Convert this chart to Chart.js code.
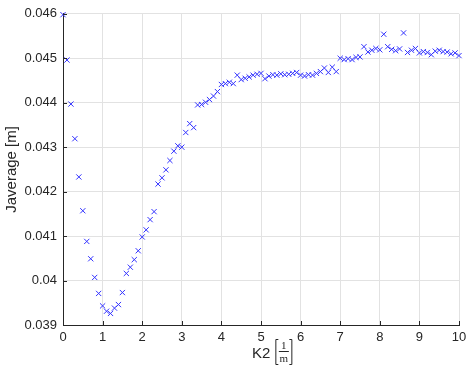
<!DOCTYPE html>
<html>
<head>
<meta charset="utf-8">
<script src="https://cdn.jsdelivr.net/npm/chart.js@4.4.1/dist/chart.umd.min.js"></script>
<style>
  html, body { margin: 0; padding: 0; background: #fff; }
  #wrap { width: 474px; height: 372px; position: relative; }
</style>
</head>
<body>
<div id="wrap"><canvas id="javgChart"></canvas></div>
<script>
// K2 values (1/m)
const k2Values = [
  0.0, 0.1, 0.2, 0.3, 0.4, 0.5, 0.6, 0.7, 0.8, 0.9,
  1.0, 1.1, 1.2, 1.3, 1.4, 1.5, 1.6, 1.7, 1.8, 1.9,
  2.0, 2.1, 2.2, 2.3, 2.4, 2.5, 2.6, 2.7, 2.8, 2.9,
  3.0, 3.1, 3.2, 3.3, 3.4, 3.5, 3.6, 3.7, 3.8, 3.9,
  4.0, 4.1, 4.2, 4.3, 4.4, 4.5, 4.6, 4.7, 4.8, 4.9,
  5.0, 5.1, 5.2, 5.3, 5.4, 5.5, 5.6, 5.7, 5.8, 5.9,
  6.0, 6.1, 6.2, 6.3, 6.4, 6.5, 6.6, 6.7, 6.8, 6.9,
  7.0, 7.1, 7.2, 7.3, 7.4, 7.5, 7.6, 7.7, 7.8, 7.9,
  8.0, 8.1, 8.2, 8.3, 8.4, 8.5, 8.6, 8.7, 8.8, 8.9,
  9.0, 9.1, 9.2, 9.3, 9.4, 9.5, 9.6, 9.7, 9.8, 9.9,
  10.0
];

// Javerage (m)
const javgValues = [
  0.04598, 0.04496, 0.04397, 0.04319, 0.04233, 0.04157, 0.04088, 0.04049, 0.04007, 0.03971,
  0.03943, 0.03931, 0.03926, 0.03938, 0.03946, 0.03973, 0.04016, 0.04030, 0.04047, 0.04067,
  0.04098, 0.04114, 0.04137, 0.04155, 0.04217, 0.04231, 0.04249, 0.04270, 0.04291, 0.04303,
  0.04300, 0.04333, 0.04353, 0.04344, 0.04395, 0.04396, 0.04401, 0.04407, 0.04415, 0.04425,
  0.04441, 0.04443, 0.04446, 0.04443, 0.04462, 0.04452, 0.04455, 0.04458, 0.04462, 0.04464,
  0.04466, 0.04454, 0.04460, 0.04463, 0.04462, 0.04465, 0.04463, 0.04464, 0.04466, 0.04468,
  0.04462, 0.04460, 0.04463, 0.04462, 0.04466, 0.04470, 0.04478, 0.04468, 0.04480, 0.04470,
  0.04500, 0.04497, 0.04499, 0.04497, 0.04502, 0.04503, 0.04526, 0.04514, 0.04518, 0.04522,
  0.04519, 0.04554, 0.04526, 0.04520, 0.04517, 0.04521, 0.04557, 0.04513, 0.04518, 0.04522,
  0.04512, 0.04515, 0.04513, 0.04508, 0.04516, 0.04518, 0.04515, 0.04514, 0.04510, 0.04512,
  0.04506
];

const xRange = [0, 10];
const yRange = [0.039, 0.046];

const axisColor = '#262626';
const gridColor = '#e2e2e2';

// MATLAB style: ticks point inwards + x label with a bracketed fraction
const matlabBits = {
  id: 'matlabBits',
  afterDraw(chart) {
    const ctx = chart.ctx;
    const xs = chart.scales.x, ys = chart.scales.y;
    const area = chart.chartArea;
    ctx.save();
    ctx.strokeStyle = axisColor;
    ctx.lineWidth = 1;
    ctx.beginPath();
    xs.ticks.forEach(t => {
      const px = Math.round(xs.getPixelForValue(t.value)) + 0.5;
      ctx.moveTo(px, area.bottom);
      ctx.lineTo(px, area.bottom - 4);
    });
    ys.ticks.forEach(t => {
      const py = Math.round(ys.getPixelForValue(t.value)) + 0.5;
      ctx.moveTo(area.left, py);
      ctx.lineTo(area.left + 4, py);
    });
    ctx.stroke();

    // x axis label: K2 [1/m]
    const cx = (area.left + area.right) / 2;
    const baseY = 358;
    ctx.fillStyle = axisColor;
    ctx.font = '15px "Liberation Sans", Arial, sans-serif';
    ctx.textBaseline = 'alphabetic';
    ctx.textAlign = 'left';
    const k2w = ctx.measureText('K2').width;
    const startX = cx - 9;
    ctx.fillText('K2', startX, baseY);
    const bl = startX + k2w + 5;
    const br = bl + 17;
    const top = 339, bot = 364;
    ctx.beginPath();
    ctx.moveTo(bl + 3, top + 0.5); ctx.lineTo(bl + 0.5, top + 0.5);
    ctx.lineTo(bl + 0.5, bot + 0.5); ctx.lineTo(bl + 3, bot + 0.5);
    ctx.moveTo(br - 3, top + 0.5); ctx.lineTo(br - 0.5, top + 0.5);
    ctx.lineTo(br - 0.5, bot + 0.5); ctx.lineTo(br - 3, bot + 0.5);
    const mid = (bl + br) / 2;
    ctx.moveTo(mid - 5, 351.5); ctx.lineTo(mid + 5, 351.5);
    ctx.stroke();
    ctx.font = '11px "Liberation Serif", "Times New Roman", serif';
    ctx.textAlign = 'center';
    ctx.fillText('1', mid, 349);
    ctx.fillText('m', mid, 362);
    ctx.restore();
  }
};

new Chart(document.getElementById('javgChart'), {
  type: 'scatter',
  data: {
    datasets: [{
      label: 'Javerage',
      data: k2Values.map((k, i) => ({ x: k, y: javgValues[i] })),
      clip: false,
      pointStyle: 'crossRot',
      pointRadius: 3.7,
      pointBorderWidth: 1,
      borderColor: '#3333ff',
      backgroundColor: '#3333ff'
    }]
  },
  options: {
    responsive: true,
    maintainAspectRatio: false,
    animation: false,
    layout: { padding: { top: 13, right: 15, left: 0, bottom: 0 } },
    plugins: {
      legend: { display: false },
      tooltip: { enabled: false }
    },
    scales: {
      x: {
        type: 'linear',
        min: xRange[0],
        max: xRange[1],
        ticks: {
          stepSize: 1,
          color: axisColor,
          padding: 5,
          maxRotation: 0,
          font: { family: '"Liberation Sans", Arial, sans-serif', size: 13 }
        },
        grid: { color: gridColor, drawTicks: false },
        border: { display: true, color: axisColor },
        afterFit(scale) { scale.height = 47; }
      },
      y: {
        min: yRange[0],
        max: yRange[1],
        ticks: {
          stepSize: 0.001,
          color: axisColor,
          padding: 6,
          font: { family: '"Liberation Sans", Arial, sans-serif', size: 13 },
          callback: v => String(parseFloat(v.toFixed(3)))
        },
        grid: { color: gridColor, drawTicks: false },
        border: { display: true, color: axisColor },
        title: {
          display: true,
          text: 'Javerage [m]',
          color: axisColor,
          padding: { top: 3, bottom: 0 },
          font: { family: '"Liberation Sans", Arial, sans-serif', size: 15 }
        },
        afterFit(scale) { scale.width = 63; }
      }
    }
  },
  plugins: [matlabBits]
});
</script>
</body>
</html>
